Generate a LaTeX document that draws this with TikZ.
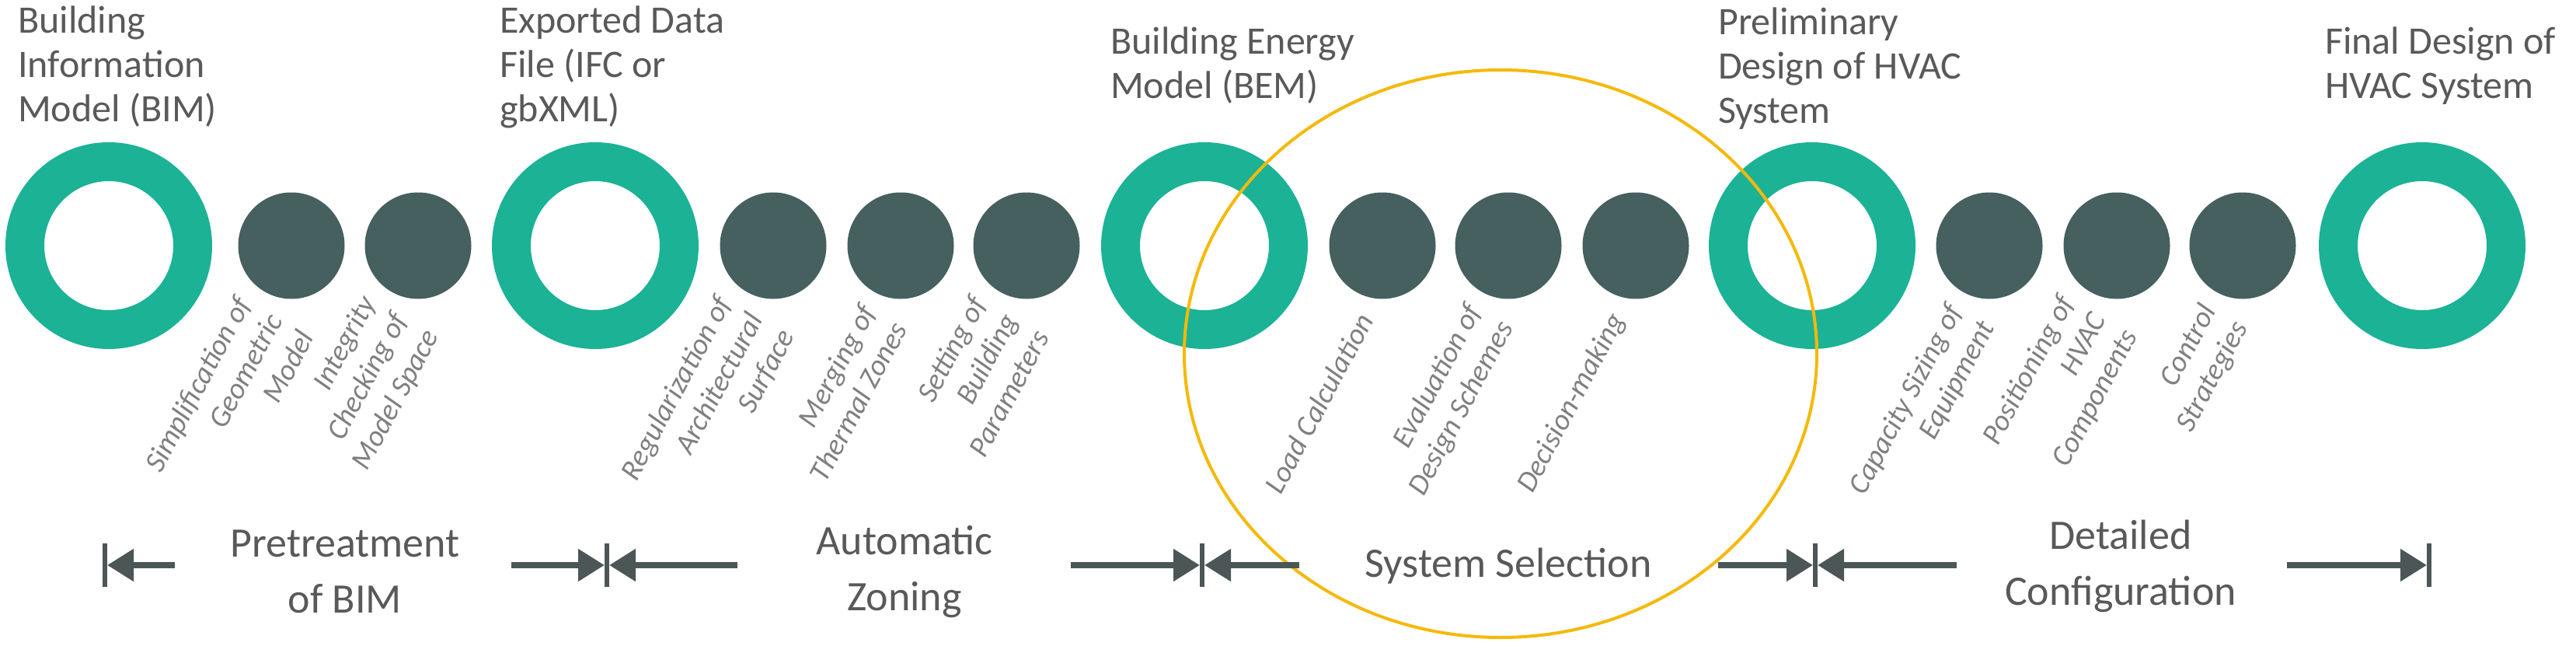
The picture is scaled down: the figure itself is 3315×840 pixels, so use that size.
\documentclass[tikz,border=0pt]{standalone}
\usepackage{fontspec}
\setmainfont{Carlito}
\usetikzlibrary{arrows.meta}
\definecolor{teal}{RGB}{27,178,150}
\definecolor{dark}{RGB}{69,96,94}
\definecolor{gold}{RGB}{245,185,10}
\definecolor{htext}{RGB}{89,89,89}
\definecolor{rtext}{RGB}{128,128,128}
\definecolor{arr}{RGB}{77,86,86}
\tikzset{
 ring/.style={circle,draw=teal,line width=50pt,minimum size=216pt,inner sep=0},
 dot/.style={circle,fill=dark,minimum size=137pt,inner sep=0},
 head/.style={anchor=north west,align=left,text=htext,font=\fontsize{50}{57}\selectfont,inner sep=0},
 rlab/.style={rotate=62,anchor=east,align=right,text=rtext,font=\itshape\fontsize{38}{46}\selectfont,inner sep=0},
 phase/.style={align=center,text=htext,font=\fontsize{54}{72}\selectfont,inner sep=0},
 bar/.style={draw=arr,line width=6pt},
 arw/.style={draw=arr,line width=8pt,-{Triangle[length=34pt,width=40pt]}}
}
\begin{document}
\begin{tikzpicture}[x=1pt,y=-1pt]
\useasboundingbox (0,0) rectangle (3315,840);
\node[ring] (r1) at (140,316) {};
\node[ring] (r2) at (766,316) {};
\node[ring] (r3) at (1550,316) {};
\node[ring] (r4) at (2332,316) {};
\node[ring] (r5) at (3117,316) {};
\foreach \n/\x in {d1/375,d2/538,d3/995,d4/1159,d5/1321,d6/1779,d7/1941,d8/2105,d9/2560,d10/2724,d11/2886}
  \node[dot] (\n) at (\x,316) {};
\draw[gold,line width=4pt] (1931,455) ellipse [x radius=407,y radius=365];
\node[head] (h1) at (23,8) {Building\\Information\\Model (BIM)};
\node[head] (h2) at (643,8) {Exported Data\\File (IFC or\\gbXML)};
\node[head] (h3) at (1429,35) {Building Energy\\Model (BEM)};
\node[head] (h4) at (2211,10) {Preliminary\\Design of HVAC\\System};
\node[head] (h5) at (2992,35) {Final Design of\\HVAC System};
\node[rlab] at ([shift={(-22,90)}]d1.center) {Simplification of\\Geometric\\Model};
\node[rlab] at ([shift={(-22,90)}]d2.center) {Integrity\\Checking of\\Model Space};
\node[rlab] at ([shift={(-22,90)}]d3.center) {Regularization of\\Architectural\\Surface};
\node[rlab] at ([shift={(-22,90)}]d4.center) {Merging of\\Thermal Zones};
\node[rlab] at ([shift={(-22,90)}]d5.center) {Setting of\\Building\\Parameters};
\node[rlab] at ([shift={(-22,90)}]d6.center) {Load Calculation};
\node[rlab] at ([shift={(-22,90)}]d7.center) {Evaluation of\\Design Schemes};
\node[rlab] at ([shift={(-22,90)}]d8.center) {Decision-making};
\node[rlab] at ([shift={(-22,90)}]d9.center) {Capacity Sizing of\\Equipment};
\node[rlab] at ([shift={(-22,90)}]d10.center) {Positioning of\\HVAC\\Components};
\node[rlab] at ([shift={(-22,90)}]d11.center) {Control\\Strategies};
\foreach \n/\x in {b1/135,b2/781,b3/1547,b4/2336,b5/3126}{
  \coordinate (\n) at (\x,727);
  \draw[bar] (\x,699) -- (\x,755);}
\node[phase] (p1) at (444,735) {Pretreatment\\of BIM};
\node[phase] (p2) at (1164,735) {Automatic\\Zoning};
\node[phase] (p3) at (1941,728) {System Selection};
\node[phase] (p4) at (2729,728) {Detailed\\Configuration};
\coordinate (a1) at (225,727);
\coordinate (a2) at (658,727);
\coordinate (a3) at (949,727);
\coordinate (a4) at (1378,727);
\coordinate (a5) at (1672,727);
\coordinate (a6) at (2211,727);
\coordinate (a7) at (2518,727);
\coordinate (a8) at (2943,727);
\draw[arw] (a1) -- ([xshift=3pt]b1);
\draw[arw] (a2) -- ([xshift=-3pt]b2);
\draw[arw] (a3) -- ([xshift=3pt]b2);
\draw[arw] (a4) -- ([xshift=-3pt]b3);
\draw[arw] (a5) -- ([xshift=3pt]b3);
\draw[arw] (a6) -- ([xshift=-3pt]b4);
\draw[arw] (a7) -- ([xshift=3pt]b4);
\draw[arw] (a8) -- ([xshift=-3pt]b5);
\end{tikzpicture}
\end{document}
